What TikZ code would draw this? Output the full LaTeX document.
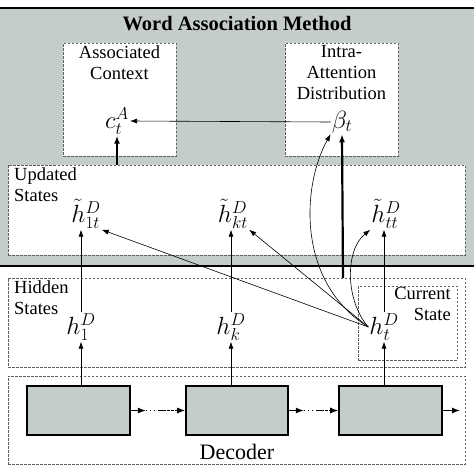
\documentclass[tikz,border=0pt]{standalone}
\usepackage{fontspec}
\setmainfont{Liberation Serif}
\usetikzlibrary{arrows.meta,decorations.markings}
\definecolor{panel}{RGB}{197,205,204}
\definecolor{dashc}{RGB}{95,95,95}
\tikzset{
  dashbox/.style={draw=dashc, dash pattern=on 2.5pt off 1.5pt, line width=0.7pt, fill=white, inner sep=0pt},
  plainbox/.style={draw=dashc, dash pattern=on 2.5pt off 1.5pt, line width=0.7pt, inner sep=0pt},
  block/.style={draw=black, line width=1.6pt, fill=panel, inner sep=0pt},
  lbl/.style={font=\fontsize{18.5}{21}\selectfont, inner sep=0pt, align=center},
  mth/.style={font=\fontsize{25}{29}\selectfont, inner sep=1pt},
  arr/.style={-{Latex[length=7pt,width=5pt]}, line width=0.6pt},
  charr/.style={-{Latex[length=8pt,width=6pt]}, line width=1.1pt},
  tharr/.style={-{Latex[length=8pt,width=6pt]}, line width=2.2pt},
  sep/.style={line width=2.6pt}
}
\begin{document}
\begin{tikzpicture}[x=1pt,y=-1pt]
\useasboundingbox (0,0) rectangle (474,474);
\fill[white] (0,0) rectangle (474,474);
\fill[panel] (0,8) rectangle (474,266);
\draw[sep] (0,8) -- (474,8);
\draw[sep] (0,266) -- (474,266);

\node[font=\bfseries\fontsize{20.5}{24}\selectfont, inner sep=0pt] (title) at (237,24) {Word Association Method};

% top boxes
\node[dashbox, minimum width=113pt, minimum height=113pt] (assoc) at (119.5,99.5) {};
\node[dashbox, minimum width=113pt, minimum height=113pt] (intra) at (341.5,99.5) {};
\node[lbl, anchor=north] (assocl) at (119.5,45) {Associated\\Context};
\node[lbl, anchor=north] (intral) at (341.5,45) {Intra-\\Attention\\Distribution};
\node[mth] (c) at (117,121) {$c_t^A$};
\node[mth] (beta) at (342,122) {$\beta_t$};

% updated states
\node[dashbox, minimum width=457pt, minimum height=90pt] (upd) at (236.5,210) {};
\node[lbl, align=left, anchor=north west] (updl) at (14,167) {Updated\\States};
\node[mth] (u1) at (86,214) {$\tilde{h}_{1t}^{D}$};
\node[mth] (uk) at (233,214) {$\tilde{h}_{kt}^{D}$};
\node[mth] (ut) at (386,214) {$\tilde{h}_{tt}^{D}$};

% hidden states
\node[plainbox, minimum width=457pt, minimum height=89pt] (hid) at (236.5,322.5) {};
\node[lbl, align=left, anchor=north west] (hidl) at (14,280) {Hidden\\States};
\node[plainbox, minimum width=99pt, minimum height=74pt] (cur) at (407.5,323) {};
\node[lbl, align=right, anchor=north east] (curl) at (451,287) {Current\\State};
\node[mth] (h1) at (81,327) {$h_1^D$};
\node[mth] (hk) at (231,327) {$h_k^D$};
\node[mth] (ht) at (384,327) {$h_t^D$};

% decoder
\node[plainbox, minimum width=457pt, minimum height=88pt] (dec) at (236.5,420) {};
\node[font=\fontsize{22}{26}\selectfont, inner sep=0pt] (decl) at (237,452) {Decoder};
\node[block, minimum width=103pt, minimum height=49pt] (b1) at (78.5,410.5) {};
\node[block, minimum width=102pt, minimum height=49pt] (b2) at (237,410.5) {};
\node[block, minimum width=103pt, minimum height=49pt] (b3) at (390.5,410.5) {};
\coordinate (out) at (460,410.5);

% decoder chain
\draw[charr] (b1.east) -- ++(15,0) coordinate (m1);
\draw[charr, dash pattern=on 1.5pt off 2.5pt on 1.5pt off 2.5pt on 1.5pt off 2.5pt on 8pt] (m1) -- (b2.west);
\draw[charr] (b2.east) -- ++(15,0) coordinate (m2);
\draw[charr, dash pattern=on 1.5pt off 2.5pt on 1.5pt off 2.5pt on 1.5pt off 2.5pt on 8pt] (m2) -- (b3.west);
\draw[charr] (b3.east) -- (out);

% blocks to hidden
\draw[arr] (b1.north -| h1) -- (h1.south);
\draw[arr] (b2.north -| hk) -- (hk.south);
\draw[arr] (b3.north -| ht) -- (ht.south);

% hidden to updated
\draw[arr] (h1.north) -- (h1.north |- u1.south);
\draw[arr] (hk.north) -- (hk.north |- uk.south);
\draw[arr] (ht.north) -- (ht.north |- ut.south);

% fan from current state
\draw[arr] (ht.west) -- (u1.south east);
\draw[arr] (ht.west) -- (uk.south east);
\draw[arr] (ht.west) .. controls (345,300) and (345,250) .. (ut.south west);
\draw[arr] (ht.west) .. controls (296,282) and (302,185) .. (beta.south west);

% thick arrows
\coordinate (tb) at (343,278);
\draw[tharr] (tb) -- (beta.south);
\draw[tharr] (upd.north -| c) -- (c.south);

% beta to c
\draw[arr] (beta.west) -- (c.east);
\end{tikzpicture}
\end{document}
